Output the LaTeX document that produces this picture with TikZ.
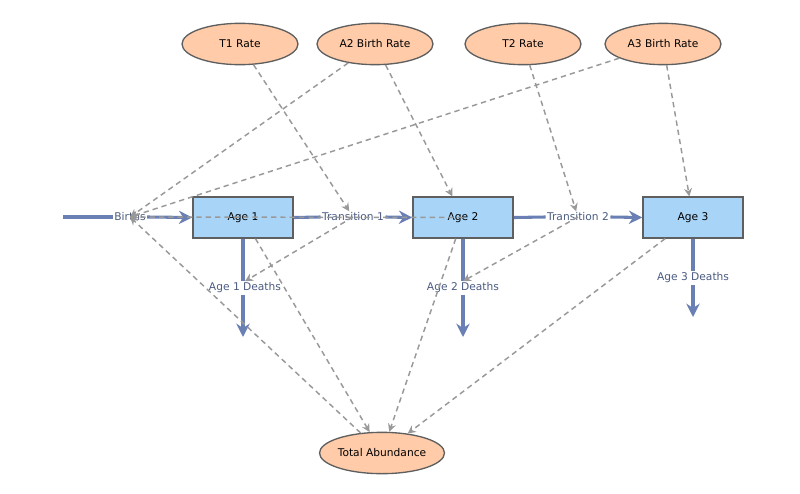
\documentclass[tikz,border=0pt]{standalone}
\usepackage{fontspec}
\setmainfont{DejaVu Sans}
\usetikzlibrary{arrows.meta,shapes.geometric}
\definecolor{flowc}{HTML}{6A80B4}
\definecolor{boxf}{HTML}{A8D4F8}
\definecolor{ellf}{HTML}{FFCBA8}
\definecolor{edge}{HTML}{5F5F5F}
\definecolor{txt}{HTML}{4A5A80}
\begin{document}
\begin{tikzpicture}[x=0.75pt,y=-0.75pt,
  stock/.style={draw=edge,line width=1.2pt,fill=boxf,minimum width=75pt,minimum height=30.5pt,inner sep=0pt,font=\footnotesize},
  var/.style={ellipse,draw=edge,line width=1pt,fill=ellf,minimum width=87pt,minimum height=31pt,inner sep=0pt,font=\footnotesize},
  lab/.style={inner sep=1pt,text=txt,font=\footnotesize},
  flow/.style={draw=flowc,line width=2.3pt,-{Stealth[length=10pt,width=10pt]}},
  link/.style={draw=gray!80,line width=1.1pt,dash pattern=on 4pt off 3pt,-{Stealth[length=6pt,width=6pt]}}]
\useasboundingbox (0,0) rectangle (800,493);
\node[var] (t1) at (240,44) {T1 Rate};
\node[var] (a2) at (375,44) {A2 Birth Rate};
\node[var] (t2) at (523,44) {T2 Rate};
\node[var] (a3) at (663,44) {A3 Birth Rate};
\node[var] (ta) at (382,453) {Total Abundance};
\node[stock] (g1) at (243,217.5) {Age 1};
\node[stock] (g2) at (463,217.5) {Age 2};
\node[stock] (g3) at (693,217.5) {Age 3};
\coordinate (src) at (63,217);
\node[lab] (bi) at (130,217) {Births};
\node[lab] (tr1) at (353,217) {Transition 1};
\node[lab] (tr2) at (578,217) {Transition 2};
\node[lab] (d1) at (245,288) {Age 1 Deaths};
\node[lab] (d2) at (463,288) {Age 2 Deaths};
\node[lab] (d3) at (693,278) {Age 3 Deaths};
\coordinate (e1) at (243,337);
\coordinate (e2) at (463,337);
\coordinate (e3) at (693,317);
% flows
\draw[flowc,line width=2.3pt] (src) -- (bi.west);
\draw[flow] (bi.east) -- (g1.west);
\draw[flowc,line width=2.3pt] (g1.east) -- (tr1.west);
\draw[flow] (tr1.east) -- (g2.west);
\draw[flowc,line width=2.3pt] (g2.east) -- (tr2.west);
\draw[flow] (tr2.east) -- (g3.west);
\draw[flowc,line width=2.3pt] (g1.south) -- (g1.south |- d1.north);
\draw[flow] (g1.south |- d1.south) -- (e1);
\draw[flowc,line width=2.3pt] (g2.south) -- (d2.north);
\draw[flow] (d2.south) -- (e2);
\draw[flowc,line width=2.3pt] (g3.south) -- (d3.north);
\draw[flow] (d3.south) -- (e3);
% links
\draw[link] (t1) -- (tr1);
\draw[link] (a2) -- (bi.center);
\draw[link] (a2) -- (g2);
\draw[link] (t2) -- (tr2);
\draw[link] (a3) -- (bi.center);
\draw[link] (a3) -- (g3);
\draw[link] (g2.center) -- (bi.center);
\draw[link] (ta) -- (bi.center);
\draw[link] (tr1.center) -- (d1.north);
\draw[link] (tr2.center) -- (d2.north);
\draw[link] (g1) -- (ta);
\draw[link] (g2) -- (ta);
\draw[link] (g3) -- (ta);
\end{tikzpicture}
\end{document}
